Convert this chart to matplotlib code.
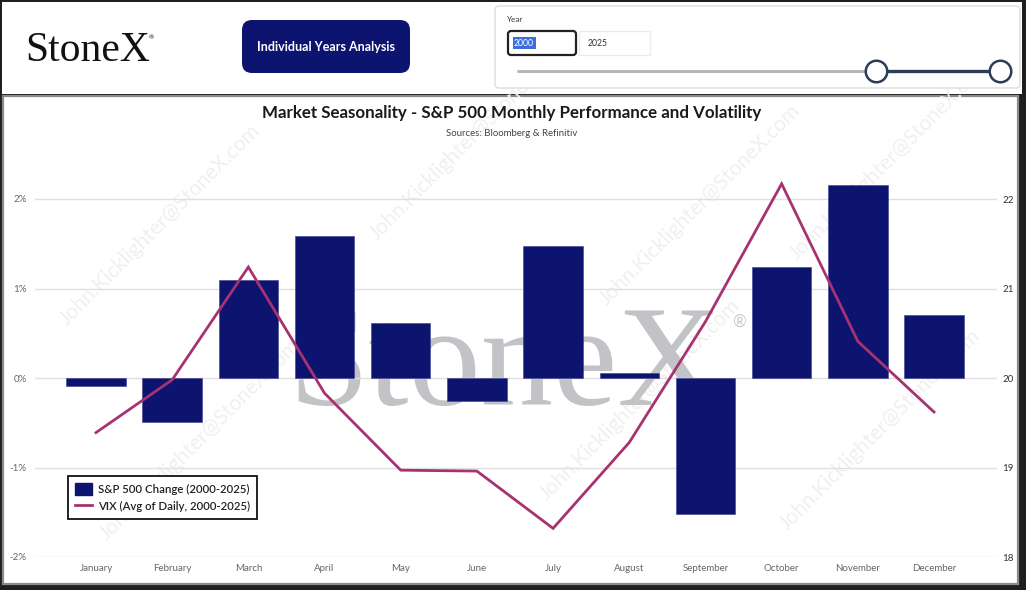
import matplotlib
matplotlib.use("Agg")
import matplotlib.pyplot as plt
from matplotlib.patches import Rectangle, FancyBboxPatch, Patch
from matplotlib.lines import Line2D
import numpy as np

# ---------------- data ----------------
months = ["January", "February", "March", "April", "May", "June", "July",
          "August", "September", "October", "November", "December"]
sp500_change = [-0.09, -0.49, 1.09, 1.59, 0.61, -0.26, 1.48, 0.06, -1.52, 1.24, 2.16, 0.70]
vix_avg = [19.39, 19.98, 21.24, 19.83, 18.97, 18.96, 18.32, 19.28, 20.63, 22.17, 20.41, 19.62]
left_ticks = [-2, -1, 0, 1, 2]
left_tick_labels = ["-2%", "-1%", "0%", "1%", "2%"]
right_ticks = [18, 19, 20, 21, 22]
right_tick_labels = ["18", "19", "20", "21", "22"]
title = "Market Seasonality - S&P 500 Monthly Performance and Volatility"
subtitle = "Sources: Bloomberg & Refinitiv"
legend_labels = ["S&P 500 Change (2000-2025)", "VIX (Avg of Daily, 2000-2025)"]
year_from, year_to = "2000", "2025"

NAVY = "#0d1470"
MAG = "#a8326f"
FONT = ["Lato", "DejaVu Sans"]
SERIF = ["Liberation Serif", "DejaVu Serif"]
plt.rcParams["font.family"] = FONT

W, H = 1026, 590
fig = plt.figure(figsize=(W / 100, H / 100), dpi=100, facecolor="#1f1f1f")

# background / overlay axes in pixel coordinates
bg = fig.add_axes([0, 0, 1, 1], zorder=0)
bg.set_xlim(0, W)
bg.set_ylim(H, 0)
bg.axis("off")
bg.patch.set_visible(False)

# header
bg.add_patch(Rectangle((2, 2), 1020, 92, facecolor="white", edgecolor="none"))
# chart panel
bg.add_patch(Rectangle((3, 96), 1015, 488, facecolor="white", edgecolor="#8a8a8a", lw=1.6))

# email watermarks (behind the chart marks)
wm_centers = [(160, 225), (470, 140), (700, 205), (640, 400), (200, 440), (880, 430), (890, 160)]
for cx, cy in wm_centers:
    bg.text(cx, cy, "John.Kicklighter@StoneX.com", fontsize=15, color="#f0f0f0",
            rotation=45, ha="center", va="center", rotation_mode="anchor")

# StoneX logo
bg.text(25, 61, "StoneX", family=SERIF, fontsize=30, color="#111111",
        va="baseline", ha="left")
bg.text(149, 38, "\u00ae", fontsize=4.5, color="#111111", va="center", ha="left")

# button
bg.add_patch(FancyBboxPatch((242, 20), 168, 53, boxstyle="round,pad=0,rounding_size=10",
                            facecolor=NAVY, edgecolor="none"))
bg.text(326, 47, "Individual Years Analysis", color="white", fontsize=9.0,
        fontweight="bold", ha="center", va="center")

# year selector box
bg.add_patch(FancyBboxPatch((495, 6), 525, 82, boxstyle="round,pad=0,rounding_size=4",
                            facecolor="white", edgecolor="#dcdcdc", lw=1, zorder=4))
bg.text(507, 20, "Year", fontsize=5.8, color="#333333", va="center", ha="left", zorder=5)
bg.add_patch(FancyBboxPatch((508, 31), 68, 24, boxstyle="round,pad=0,rounding_size=3",
                            facecolor="white", edgecolor="#222222", lw=1.6, zorder=5))
bg.add_patch(Rectangle((513, 37), 23, 12, facecolor="#3a6fdc", edgecolor="none", zorder=6))
bg.text(514, 43.5, year_from, fontsize=6.2, color="white", va="center", ha="left", zorder=7)
bg.add_patch(Rectangle((579, 31), 71, 24, facecolor="white", edgecolor="#ebebeb", lw=1,
                       zorder=5))
bg.text(588, 43.5, year_to, fontsize=6.2, color="#333333", va="center", ha="left", zorder=7)
bg.plot([518, 876], [71, 71], color="#b4b8bd", lw=2.2, solid_capstyle="round", zorder=6)
bg.plot([876, 1000], [71, 71], color="#2d3d55", lw=2.4, zorder=6)
bg.plot([876, 1000], [71, 71], ls="none", marker="o", ms=15.5, mfc="white",
        mec="#2d3d55", mew=1.8, zorder=7)

# big StoneX watermark
bg.text(505, 405, "StoneX", family=SERIF, fontsize=104, color="#c2c3c7",
        ha="center", va="baseline")
bg.text(739, 322, "\u00ae", fontsize=12, color="#c8c9cc", ha="center", va="center")

# title
bg.text(512, 113, title, fontsize=12.2, fontweight="bold", color="#1a1a1a",
        ha="center", va="center")
bg.text(512, 134, subtitle, fontsize=6.9, color="#444444", ha="center", va="center")

# ---------------- chart ----------------
ax_left, ax_right, ax_bottom, ax_top = 35, 997, 557, 167
ax = fig.add_axes([ax_left / W, 1 - ax_bottom / H, (ax_right - ax_left) / W,
                   (ax_bottom - ax_top) / H], zorder=1)
ax.patch.set_visible(False)
x = np.arange(len(months))
ppu = (557 - 199) / 4.0
ymax = -2 + (ax_bottom - ax_top) / ppu
ax.set_ylim(-2, ymax)
spacing = (934 - 96) / 11
ax.set_xlim((ax_left - 96) / spacing, (ax_right - 96) / spacing)

ax.bar(x, sp500_change, width=0.78, color=NAVY, edgecolor="#3a3f8f", lw=0.4, zorder=3)
ax.set_yticks(left_ticks)
ax.set_yticklabels(left_tick_labels)
ax.set_xticks(x)
ax.set_xticklabels(months)
ax.grid(axis="y", color="#e0e0e0", lw=1, zorder=0)
ax.tick_params(axis="both", length=0, labelsize=7, labelcolor="#666666")
ax.tick_params(axis="y", pad=6)
ax.tick_params(axis="x", pad=5)
for s in ax.spines.values():
    s.set_visible(False)

ax2 = ax.twinx()
ax2.set_zorder(2)
ax2.patch.set_visible(False)
ax2.set_ylim(18, 18 + (ymax + 2))
ax2.plot(x, vix_avg, color=MAG, lw=2.0, solid_joinstyle="miter")
ax2.set_yticks(right_ticks)
ax2.set_yticklabels(right_tick_labels)
ax2.tick_params(axis="y", length=0, labelsize=7, labelcolor="#333333", pad=4)
for s in ax2.spines.values():
    s.set_visible(False)

handles = [Patch(facecolor=NAVY, edgecolor=NAVY),
           Line2D([0], [0], color=MAG, lw=2)]
leg = ax2.legend(handles, legend_labels, loc="upper left",
                 bbox_to_anchor=(62 / W, 1 - 470 / H), bbox_transform=fig.transFigure,
                 fancybox=False, framealpha=1, edgecolor="#111111",
                 prop={"size": 8.2, "weight": "semibold"}, borderpad=0.6,
                 handlelength=1.5, handleheight=1.3, labelspacing=0.45, handletextpad=0.6)
leg.get_frame().set_linewidth(1.3)
for t in leg.get_texts():
    t.set_color("#222222")

fig.savefig("out.png", dpi=100, facecolor=fig.get_facecolor())
